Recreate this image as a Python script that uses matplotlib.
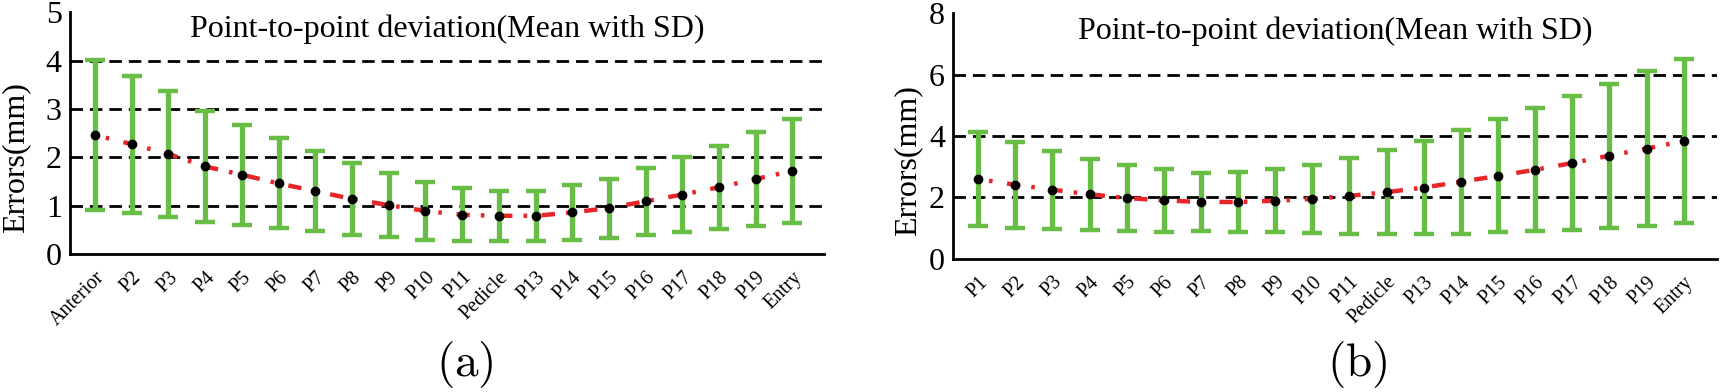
import matplotlib
matplotlib.use("Agg")
import matplotlib.pyplot as plt

plt.rcParams["font.family"] = ["Liberation Serif", "DejaVu Serif"]
plt.rcParams["mathtext.fontset"] = "cm"

# panel (a)
labels_a = ["Anterior", "P2", "P3", "P4", "P5", "P6", "P7", "P8", "P9", "P10",
            "P11", "Pedicle", "P13", "P14", "P15", "P16", "P17", "P18", "P19", "Entry"]
mean_a = [2.46, 2.27, 2.07, 1.81, 1.64, 1.46, 1.30, 1.14, 1.01, 0.89,
          0.81, 0.79, 0.79, 0.86, 0.95, 1.09, 1.23, 1.38, 1.55, 1.72]
sd_a = [1.55, 1.42, 1.30, 1.14, 1.03, 0.93, 0.83, 0.75, 0.66, 0.60,
        0.55, 0.52, 0.52, 0.56, 0.61, 0.69, 0.78, 0.86, 0.97, 1.08]
yticks_a = [0, 1, 2, 3, 4, 5]

# panel (b)
labels_b = ["P1", "P2", "P3", "P4", "P5", "P6", "P7", "P8", "P9", "P10",
            "P11", "Pedicle", "P13", "P14", "P15", "P16", "P17", "P18", "P19", "Entry"]
mean_b = [2.60, 2.41, 2.25, 2.10, 1.98, 1.90, 1.85, 1.85, 1.89, 1.95,
          2.05, 2.17, 2.32, 2.51, 2.70, 2.90, 3.12, 3.36, 3.59, 3.84]
sd_b = [1.52, 1.41, 1.27, 1.15, 1.07, 1.02, 0.96, 0.97, 1.03, 1.12,
        1.24, 1.37, 1.52, 1.69, 1.84, 2.01, 2.18, 2.35, 2.52, 2.68]
yticks_b = [0, 2, 4, 6, 8]

title = "Point-to-point deviation(Mean with SD)"
green = "#68bd45"
red = "#e8262a"

fig = plt.figure(figsize=(17.2, 3.92), dpi=100)
ax1 = fig.add_axes([0.0407, 0.352, 0.4384, 0.617])
ax2 = fig.add_axes([0.5543, 0.340, 0.4438, 0.626])


def draw(ax, labels, mean, sd, yticks, xlim, ylab_x):
    x = list(range(len(labels)))
    ax.errorbar(x, mean, yerr=sd, fmt="none", ecolor=green, elinewidth=3.8,
                capsize=7, capthick=3.2, zorder=3)
    ax.plot(x, mean, color=red, lw=3.2, zorder=4,
            linestyle=(3.0, (3.0, 2.5, 0.8, 3.3)))
    ax.plot(x, mean, "o", color="black", ms=6, zorder=5)
    for t in yticks[1:-1]:
        ax.axhline(t, color="black", lw=2, linestyle=(0, (4.5, 2.5)), zorder=1)
    ax.set_xlim(xlim)
    ax.set_ylim(yticks[0], yticks[-1])
    ax.set_yticks(yticks)
    ax.set_xticks(x)
    ax.set_xticklabels(labels, rotation=45, ha="right", va="top",
                       rotation_mode="anchor", fontsize=14.5)
    ax.tick_params(axis="y", length=0, pad=6, labelsize=23)
    ax.tick_params(axis="x", length=0, pad=10)
    for s in ["top", "right"]:
        ax.spines[s].set_visible(False)
    for s in ["left", "bottom"]:
        ax.spines[s].set_linewidth(2)
    ax.set_ylabel("Errors(mm)", fontsize=23)
    ax.yaxis.set_label_coords(ylab_x, 0.40)
    ax.text(0.5, 0.897, title, transform=ax.transAxes, ha="center",
            va="baseline", fontsize=23)


draw(ax1, labels_a, mean_a, sd_a, yticks_a, (-0.68, 19.86), -0.053)
draw(ax2, labels_b, mean_b, sd_b, yticks_b, (-0.665, 19.89), -0.041)

fig.text(0.270, 0.071, r"$\mathrm{(a)}$", ha="center", va="center", fontsize=34)
fig.text(0.789, 0.071, r"$\mathrm{(b)}$", ha="center", va="center", fontsize=34)

fig.savefig("out.png", dpi=100)
